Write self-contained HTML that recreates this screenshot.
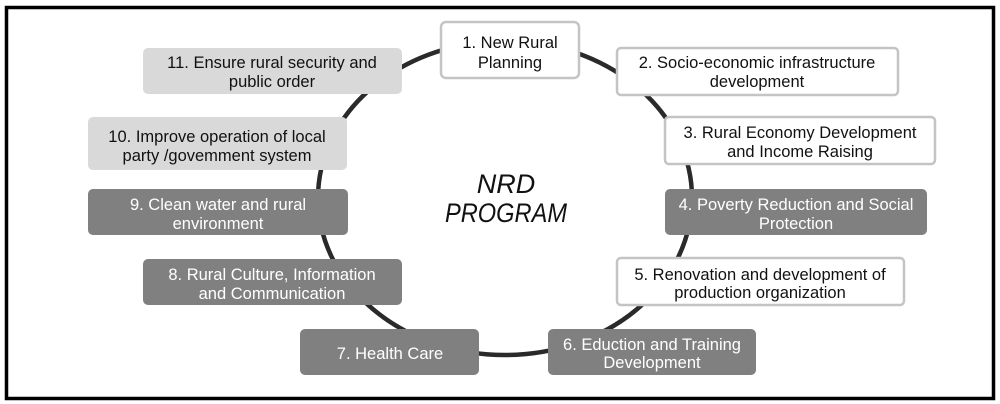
<!DOCTYPE html>
<html><head><meta charset="utf-8"><style>
html,body{margin:0;padding:0;background:#fff;}
svg{display:block;}
text{font-family:"Liberation Sans",sans-serif;font-size:16.5px;text-anchor:middle;}
.w{fill:#111;} .d{fill:#fff;}
</style></head><body>
<svg width="1000" height="404" viewBox="0 0 1000 404" xmlns="http://www.w3.org/2000/svg">
<rect x="6.5" y="7.5" width="987" height="391" fill="#fff" stroke="#000" stroke-width="3.5"/>
<ellipse cx="505" cy="198" rx="187" ry="157" fill="none" stroke="#2a2a2a" stroke-width="4.5"/>
<g>
<!-- light boxes -->
<rect x="143" y="48" width="259" height="46" rx="5" fill="#d9d9d9"/>
<text class="w" x="272" y="68">11. Ensure rural security and</text>
<text class="w" x="272" y="87">public order</text>
<rect x="88" y="117" width="259" height="53" rx="5" fill="#d9d9d9"/>
<text class="w" x="217" y="142">10. Improve operation of local</text>
<text class="w" x="217" y="161">party /govemment system</text>
<!-- dark boxes -->
<rect x="88" y="189" width="260" height="46" rx="5" fill="#808080"/>
<text class="d" x="218" y="210">9. Clean water and rural</text>
<text class="d" x="218" y="229">environment</text>
<rect x="143" y="259" width="259" height="46" rx="5" fill="#808080"/>
<text class="d" x="272" y="280">8. Rural Culture, Information</text>
<text class="d" x="272" y="299">and Communication</text>
<rect x="300" y="329" width="179" height="46" rx="5" fill="#808080"/>
<text class="d" x="390" y="359">7. Health Care</text>
<rect x="548" y="329" width="208" height="46" rx="5" fill="#808080"/>
<text class="d" x="652" y="350">6. Eduction and Training</text>
<text class="d" x="652" y="368">Development</text>
<rect x="665" y="189" width="262" height="46" rx="5" fill="#808080"/>
<text class="d" x="796" y="210">4. Poverty Reduction and Social</text>
<text class="d" x="796" y="229">Protection</text>
<!-- white boxes -->
<rect x="441" y="22" width="138" height="56" rx="5" fill="#fff" stroke="#c4c4c4" stroke-width="2.5"/>
<text class="w" x="510" y="48">1. New Rural</text>
<text class="w" x="510" y="68">Planning</text>
<rect x="617" y="48" width="281" height="47" rx="4" fill="#fff" stroke="#c4c4c4" stroke-width="2.5"/>
<text class="w" x="757" y="68">2. Socio-economic infrastructure</text>
<text class="w" x="757" y="87">development</text>
<rect x="665" y="117" width="270" height="47" rx="4" fill="#fff" stroke="#c4c4c4" stroke-width="2.5"/>
<text class="w" x="800" y="138">3. Rural Economy Development</text>
<text class="w" x="800" y="157">and Income Raising</text>
<rect x="617" y="258" width="287" height="47" rx="4" fill="#fff" stroke="#c4c4c4" stroke-width="2.5"/>
<text class="w" x="760" y="280">5. Renovation and development of</text>
<text class="w" x="760" y="298">production organization</text>
</g>
<text x="506" y="193" style="font-size:27px;font-style:italic;fill:#111">NRD</text>
<text x="506" y="222" style="font-size:27px;font-style:italic;fill:#111" textLength="122" lengthAdjust="spacingAndGlyphs">PROGRAM</text>
</svg>
</body></html>
